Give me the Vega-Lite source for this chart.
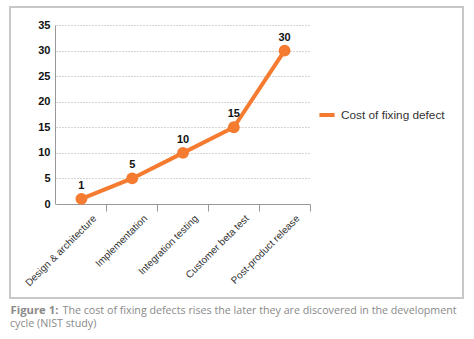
{
  "$schema": "https://vega.github.io/schema/vega-lite/v6.json",
  "autosize": "none",
  "width": 453,
  "height": 291,
  "padding": {"left": 10, "top": 7, "right": 11, "bottom": 41},
  "background": "white",
  "config": {
    "view": {"stroke": "#c8c8c8", "strokeWidth": 2},
    "font": "Liberation Sans"
  },
  "data": {
    "values": [
      {"stage": "Design & architecture", "cost": 1, "series": "Cost of fixing defect"},
      {"stage": "Implementation", "cost": 5, "series": "Cost of fixing defect"},
      {"stage": "Integration testing", "cost": 10, "series": "Cost of fixing defect"},
      {"stage": "Customer beta test", "cost": 15, "series": "Cost of fixing defect"},
      {"stage": "Post-product release", "cost": 30, "series": "Cost of fixing defect"}
    ]
  },
  "title": {
    "text": "cycle (NIST study)",
    "orient": "bottom",
    "anchor": "start",
    "offset": 4,
    "font": "Open Sans",
    "fontSize": 10.7,
    "fontWeight": "normal",
    "color": "#8a8a8a"
  },
  "encoding": {
    "x": {
      "field": "stage",
      "type": "nominal",
      "sort": null,
      "scale": {"type": "band", "range": [46, 300], "paddingInner": 0, "paddingOuter": 0},
      "axis": {
        "orient": "bottom",
        "offset": -94,
        "bandPosition": 1,
        "domainColor": "#999999",
        "tickColor": "#999999",
        "tickSize": 7,
        "labelAngle": -45,
        "labelFontSize": 10,
        "labelColor": "#333333",
        "labelOffset": 10,
        "labelPadding": 2,
        "grid": false,
        "title": "The cost of fixing defects rises the later they are discovered in the development",
        "titleX": 52,
        "titleY": 109,
        "titleAlign": "left",
        "titleAnchor": null,
        "titleBaseline": "alphabetic",
        "titleFont": "Open Sans",
        "titleFontSize": 10.7,
        "titleFontWeight": "normal",
        "titleColor": "#8a8a8a"
      }
    },
    "y": {
      "field": "cost",
      "type": "quantitative",
      "scale": {"domain": [0, 35], "range": [197, 18], "nice": false, "zero": true},
      "axis": {
        "orient": "left",
        "offset": -45,
        "values": [0, 5, 10, 15, 20, 25, 30, 35],
        "domainColor": "#999999",
        "ticks": false,
        "labelFontSize": 11,
        "labelFontWeight": "bold",
        "labelColor": "#111111",
        "labelPadding": 5,
        "grid": true,
        "gridColor": "#aaaaaa",
        "gridDash": [1, 2],
        "gridWidth": 1,
        "title": "Figure 1:",
        "titleAngle": 0,
        "titleX": -45,
        "titleY": 306,
        "titleAlign": "left",
        "titleAnchor": null,
        "titleBaseline": "alphabetic",
        "titleFont": "Open Sans",
        "titleFontSize": 11.3,
        "titleFontWeight": "bold",
        "titleColor": "#8a8a8a"
      }
    }
  },
  "layer": [
    {
      "mark": {"type": "line", "strokeWidth": 4, "point": {"filled": true, "size": 140}},
      "encoding": {
        "color": {
          "field": "series",
          "type": "nominal",
          "scale": {"range": ["#F47B2F"]},
          "legend": {
            "title": null,
            "orient": "none",
            "legendX": 307,
            "legendY": 98,
            "symbolType": "stroke",
            "symbolStrokeWidth": 4,
            "symbolSize": 230,
            "labelFontSize": 11.8,
            "labelColor": "#333333",
            "labelFont": "Liberation Sans"
          }
        }
      }
    },
    {
      "mark": {"type": "text", "dy": -13, "fontSize": 11, "fontWeight": "bold", "color": "#111111"},
      "encoding": {"text": {"field": "cost", "type": "quantitative"}}
    }
  ]
}
